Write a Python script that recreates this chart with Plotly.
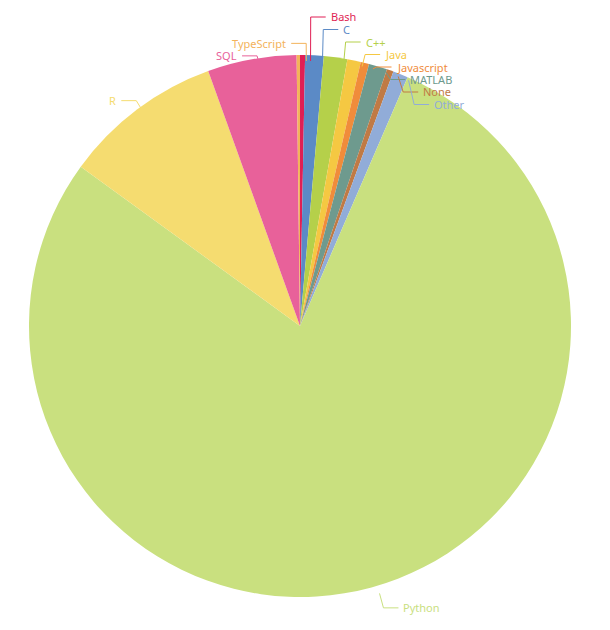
import math
import plotly.graph_objects as go

labels = ["Bash", "C", "C++", "Java", "Javascript", "MATLAB", "None", "Other",
          "Python", "R", "SQL", "TypeScript"]
values = [0.3, 1.1, 1.4, 0.8, 0.5, 1.1, 0.4, 0.9, 78.5, 9.5, 5.3, 0.2]
colors = ["#e01f54", "#5b8ac6", "#b5d04a", "#f5c842", "#f08c3b", "#6e9a8e",
          "#c07a45", "#91acd8", "#c9e07f", "#f5dc70", "#e8619a", "#f3b35b"]

W, H = 610, 630
cx, cy, R = 300, 324, 271
# pie domain offset to compensate plotly's rendering offset
dx_off, dy_off = -8, -6

fig = go.Figure(go.Pie(
    labels=labels, values=values, sort=False, direction="clockwise", rotation=0,
    marker=dict(colors=colors, line=dict(width=0)), textinfo="none",
    domain=dict(x=[(cx - R + dx_off) / W, (cx + R + dx_off) / W],
                y=[1 - (cy + R + dy_off) / H, 1 - (cy - R + dy_off) / H]),
    showlegend=False,
))

total = sum(values)
items = []
cum = 0
for lab, v, col in zip(labels, values, colors):
    th = 2 * math.pi * (cum + v / 2) / total
    cum += v
    s, c = math.sin(th), math.cos(th)
    items.append(dict(lab=lab, col=col, ex=cx + R * s, ey=cy - R * c,
                      bx=cx + (R + 15) * s, by=cy - (R + 15) * c, right=s >= 0))

GAP = 12.5
for side in (True, False):
    grp = sorted([it for it in items if it["right"] == side], key=lambda d: d["by"])
    ys = []
    for it in grp:
        y = it["by"]
        if ys and y < ys[-1] + GAP:
            y = ys[-1] + GAP
        ys.append(y)
    upper = [i for i, it in enumerate(grp) if it["by"] < cy]
    if upper:
        shift = sum(ys[i] - grp[i]["by"] for i in upper) / len(upper)
        for i in upper:
            ys[i] = ys[i] - shift
        lo = min(ys[i] for i in upper)
        if lo < 9:
            for i in upper:
                ys[i] += 9 - lo
    for it, y in zip(grp, ys):
        it["ly"] = y

px = lambda x: x / W
py = lambda y: 1 - y / H
shapes, annots = [], []
for it in items:
    sgn = 1 if it["right"] else -1
    lx = it["bx"] + sgn * 15
    path = f"M{px(it['ex'])},{py(it['ey'])} L{px(it['bx'])},{py(it['ly'])} L{px(lx)},{py(it['ly'])}"
    shapes.append(dict(type="path", path=path, xref="paper", yref="paper",
                       line=dict(color=it["col"], width=1)))
    annots.append(dict(x=px(lx + sgn * 3), y=py(it["ly"]), xref="paper", yref="paper",
                       text=it["lab"], showarrow=False,
                       xanchor="left" if it["right"] else "right", yanchor="middle",
                       font=dict(color=it["col"], size=11, family="Noto Sans")))

fig.update_layout(width=W, height=H, margin=dict(l=0, r=0, t=0, b=0),
                  paper_bgcolor="white", shapes=shapes, annotations=annots)
fig.write_html("out.html")
